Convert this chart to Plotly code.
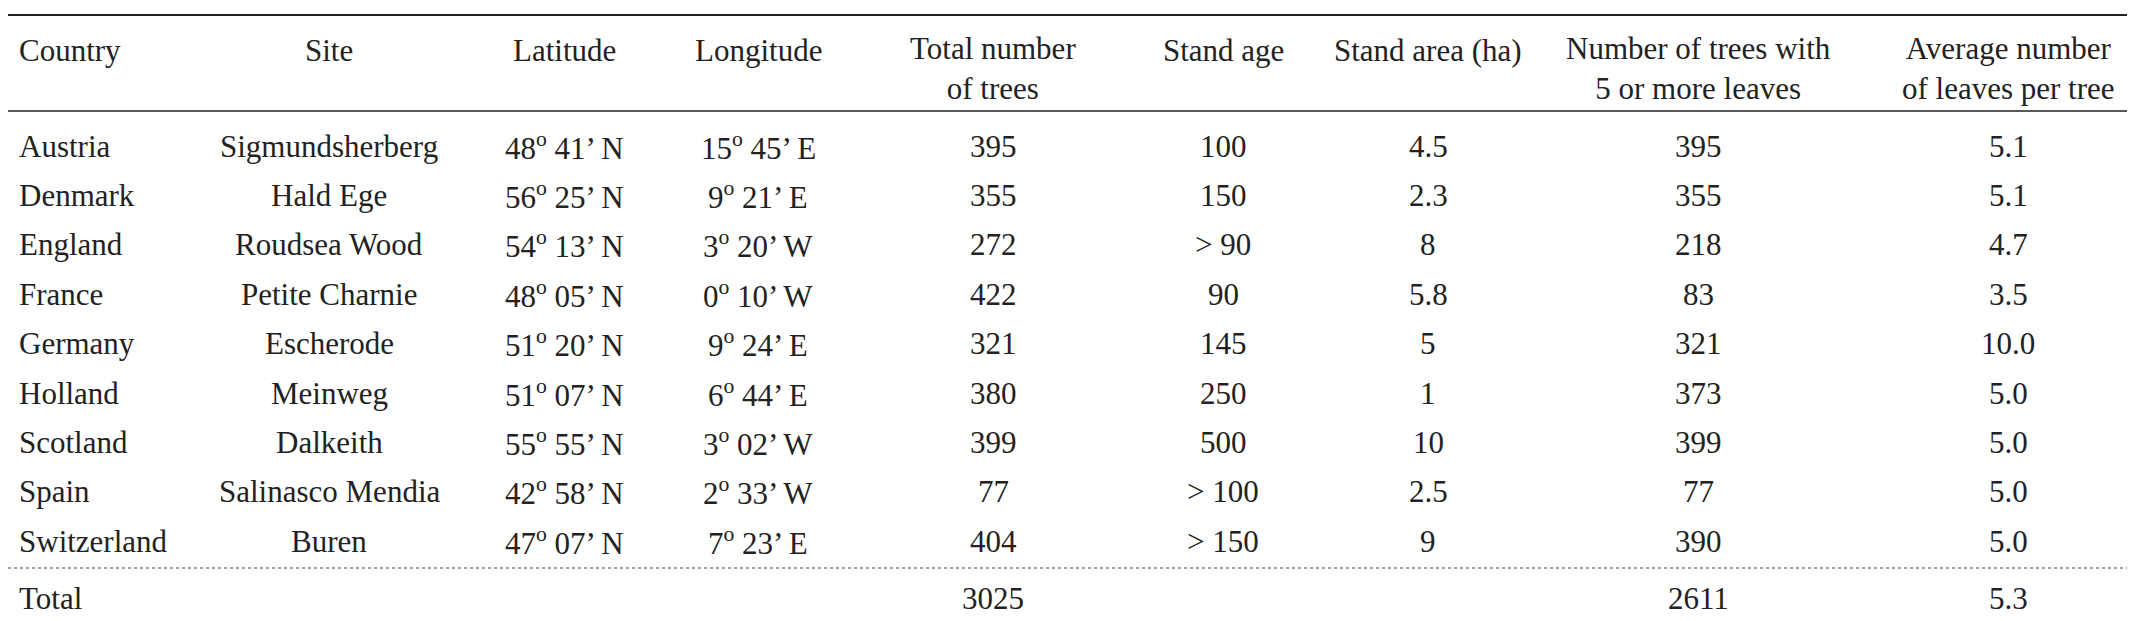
import plotly.graph_objects as go

W, H = 2135, 621

headers = ["Country", "Site", "Latitude", "Longitude", "Total number<br>of trees",
           "Stand age", "Stand area (ha)", "Number of trees with<br>5 or more leaves",
           "Average number<br>of leaves per tree"]
countries = ["Austria", "Denmark", "England", "France", "Germany", "Holland",
             "Scotland", "Spain", "Switzerland"]
sites = ["Sigmundsherberg", "Hald Ege", "Roudsea Wood", "Petite Charnie", "Escherode",
         "Meinweg", "Dalkeith", "Salinasco Mendia", "Buren"]
latitudes = ["48<sup>o</sup> 41’ N", "56<sup>o</sup> 25’ N", "54<sup>o</sup> 13’ N",
             "48<sup>o</sup> 05’ N", "51<sup>o</sup> 20’ N", "51<sup>o</sup> 07’ N",
             "55<sup>o</sup> 55’ N", "42<sup>o</sup> 58’ N", "47<sup>o</sup> 07’ N"]
longitudes = ["15<sup>o</sup> 45’ E", "9<sup>o</sup> 21’ E", "3<sup>o</sup> 20’ W",
              "0<sup>o</sup> 10’ W", "9<sup>o</sup> 24’ E", "6<sup>o</sup> 44’ E",
              "3<sup>o</sup> 02’ W", "2<sup>o</sup> 33’ W", "7<sup>o</sup> 23’ E"]
total_trees = ["395", "355", "272", "422", "321", "380", "399", "77", "404"]
stand_age = ["100", "150", "> 90", "90", "145", "250", "500", "> 100", "> 150"]
stand_area = ["4.5", "2.3", "8", "5.8", "5", "1", "10", "2.5", "9"]
trees_5plus = ["395", "355", "218", "83", "321", "373", "399", "77", "390"]
avg_leaves = ["5.1", "5.1", "4.7", "3.5", "10.0", "5.0", "5.0", "5.0", "5.0"]
total_row = ["Total", "", "", "", "3025", "", "", "2611", "5.3"]

# layout (pixels)
col_x = [9, 321, 556, 750, 985, 1215, 1420, 1690, 2000]
row_y0, row_dy = 138, 49.4
y_top, y_head, y_dot, y_total, y_bot = 7, 103, 560, 590, 617
FONT = dict(family="Liberation Serif, Times New Roman, serif", size=31, color="#222")

fig = go.Figure()
ann = []

def cell(x, y, txt, first):
    ann.append(dict(x=x, y=y, text=txt, showarrow=False, xref="x", yref="y",
                    xanchor="left" if first else "center", yanchor="middle", font=FONT))

for j, h in enumerate(headers):
    cell(col_x[j], 60 if "<br>" in h else 42, h, j == 0)

columns = [countries, sites, latitudes, longitudes, total_trees, stand_age,
           stand_area, trees_5plus, avg_leaves]
for i in range(len(countries)):
    for j, col in enumerate(columns):
        cell(col_x[j], row_y0 + i * row_dy, col[i], j == 0)

for j, t in enumerate(total_row):
    if t:
        cell(col_x[j], y_total, t, j == 0)

shapes = [
    dict(type="line", x0=0, x1=W, y0=y_top, y1=y_top, line=dict(color="#222", width=2)),
    dict(type="line", x0=0, x1=W, y0=y_head, y1=y_head, line=dict(color="#222", width=1.5)),
    dict(type="line", x0=0, x1=W, y0=y_dot, y1=y_dot, line=dict(color="#444", width=1.2, dash="dot")),
    dict(type="line", x0=0, x1=W, y0=y_bot, y1=y_bot, line=dict(color="#222", width=2.5)),
]

fig.update_layout(
    width=W, height=H, margin=dict(l=0, r=0, t=0, b=0),
    paper_bgcolor="white", plot_bgcolor="white",
    xaxis=dict(range=[0, W], visible=False, fixedrange=True),
    yaxis=dict(range=[H, 0], visible=False, fixedrange=True),
    annotations=ann, shapes=shapes, showlegend=False,
)

fig.write_html("out.html")
